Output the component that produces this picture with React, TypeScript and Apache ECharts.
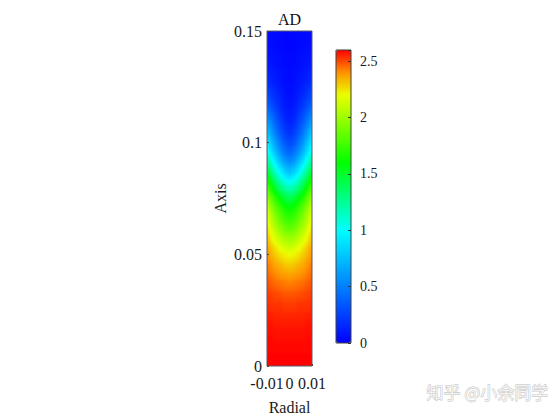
import React, { useEffect, useRef } from 'react';
import * as echarts from 'echarts';

// Radial positions of the stored half-columns (centre to wall); the field is symmetric about 0
const radialHalf = [0, 0.002, 0.004, 0.006, 0.008, 0.01];
// Axial positions of the rows: 0 to 0.15 every 0.0025 (61 rows)
const axialStep = 0.0025;
// AD values, rows from Axis = 0 upward, columns radial 0 .. 0.01
const adRows: number[][] = [
  [2.60, 2.60, 2.60, 2.60, 2.60, 2.60],
  [2.60, 2.60, 2.60, 2.60, 2.60, 2.60],
  [2.60, 2.60, 2.60, 2.60, 2.60, 2.60],
  [2.59, 2.59, 2.59, 2.59, 2.59, 2.59],
  [2.59, 2.59, 2.59, 2.59, 2.59, 2.59],
  [2.58, 2.58, 2.58, 2.58, 2.59, 2.59],
  [2.58, 2.58, 2.58, 2.58, 2.58, 2.58],
  [2.57, 2.57, 2.57, 2.57, 2.58, 2.58],
  [2.56, 2.56, 2.56, 2.56, 2.57, 2.57],
  [2.55, 2.55, 2.55, 2.55, 2.56, 2.56],
  [2.53, 2.53, 2.54, 2.54, 2.54, 2.55],
  [2.52, 2.52, 2.53, 2.53, 2.53, 2.54],
  [2.50, 2.50, 2.51, 2.51, 2.52, 2.53],
  [2.48, 2.48, 2.49, 2.50, 2.51, 2.52],
  [2.45, 2.45, 2.46, 2.47, 2.49, 2.50],
  [2.42, 2.43, 2.44, 2.45, 2.47, 2.49],
  [2.38, 2.39, 2.40, 2.42, 2.44, 2.47],
  [2.34, 2.35, 2.37, 2.39, 2.42, 2.45],
  [2.30, 2.31, 2.34, 2.36, 2.40, 2.44],
  [2.25, 2.26, 2.29, 2.33, 2.37, 2.42],
  [2.20, 2.22, 2.25, 2.29, 2.34, 2.40],
  [2.13, 2.15, 2.19, 2.25, 2.31, 2.38],
  [2.05, 2.07, 2.13, 2.19, 2.26, 2.35],
  [1.98, 2.01, 2.07, 2.14, 2.22, 2.32],
  [1.90, 1.93, 2.00, 2.08, 2.18, 2.29],
  [1.82, 1.86, 1.93, 2.02, 2.13, 2.26],
  [1.75, 1.79, 1.87, 1.97, 2.08, 2.22],
  [1.69, 1.73, 1.81, 1.92, 2.04, 2.18],
  [1.62, 1.66, 1.75, 1.85, 1.98, 2.13],
  [1.53, 1.57, 1.67, 1.78, 1.91, 2.07],
  [1.42, 1.47, 1.57, 1.69, 1.83, 2.00],
  [1.29, 1.34, 1.45, 1.58, 1.74, 1.92],
  [1.15, 1.20, 1.32, 1.46, 1.63, 1.82],
  [1.00, 1.06, 1.18, 1.33, 1.51, 1.72],
  [0.85, 0.91, 1.04, 1.20, 1.38, 1.60],
  [0.73, 0.79, 0.92, 1.08, 1.26, 1.48],
  [0.62, 0.68, 0.81, 0.96, 1.15, 1.36],
  [0.51, 0.57, 0.70, 0.85, 1.04, 1.25],
  [0.42, 0.48, 0.60, 0.75, 0.93, 1.14],
  [0.35, 0.41, 0.52, 0.67, 0.84, 1.04],
  [0.28, 0.33, 0.45, 0.59, 0.76, 0.95],
  [0.23, 0.28, 0.39, 0.52, 0.68, 0.87],
  [0.18, 0.23, 0.33, 0.46, 0.61, 0.79],
  [0.15, 0.19, 0.29, 0.40, 0.54, 0.70],
  [0.12, 0.16, 0.25, 0.35, 0.48, 0.62],
  [0.10, 0.13, 0.21, 0.30, 0.41, 0.53],
  [0.08, 0.11, 0.17, 0.25, 0.34, 0.45],
  [0.07, 0.09, 0.15, 0.21, 0.29, 0.38],
  [0.06, 0.08, 0.13, 0.18, 0.24, 0.32],
  [0.05, 0.07, 0.11, 0.15, 0.21, 0.27],
  [0.05, 0.06, 0.09, 0.13, 0.17, 0.22],
  [0.04, 0.05, 0.08, 0.10, 0.14, 0.18],
  [0.04, 0.05, 0.07, 0.09, 0.12, 0.15],
  [0.04, 0.05, 0.06, 0.08, 0.10, 0.12],
  [0.03, 0.04, 0.05, 0.06, 0.08, 0.10],
  [0.03, 0.03, 0.05, 0.06, 0.07, 0.09],
  [0.03, 0.03, 0.04, 0.05, 0.06, 0.07],
  [0.02, 0.02, 0.03, 0.04, 0.05, 0.06],
  [0.02, 0.02, 0.03, 0.03, 0.04, 0.05],
  [0.02, 0.02, 0.03, 0.03, 0.04, 0.05],
  [0.02, 0.02, 0.02, 0.03, 0.03, 0.04],
];

const radialTicks = [-0.01, 0, 0.01];
const axialTicks = [0, 0.05, 0.1, 0.15];
const colorbarTicks = [0, 0.5, 1, 1.5, 2, 2.5];
const colorMin = 0;
const colorMax = 2.6;
// rainbow colormap samples at 0, 0.2, ..., 2.6
const cmap = [
  '#0000ff', '#0033ff', '#0066ff', '#0099ff', '#00ccff', '#00ffff', '#00ffaa',
  '#00ff55', '#00ff00', '#4eff00', '#9dff00', '#ebff00', '#ff9200', '#ff0000',
];

const SERIF = '"Liberation Serif", "Times New Roman", serif';

export default function App() {
  const ref = useRef<HTMLDivElement>(null);
  useEffect(() => {
    if (!ref.current) return;
    const chart = echarts.init(ref.current, undefined, { renderer: 'svg' });

    const radialFull = radialHalf.slice(1).reverse().map((v) => -v).concat(radialHalf);
    const nCols = radialFull.length;
    const fullRows = adRows.map((row) => row.slice(1).reverse().concat(row));
    const nRows = fullRows.length;
    const data: number[][] = [];
    fullRows.forEach((full, i) => {
      full.forEach((v, j) => data.push([radialFull[j], i * axialStep, v]));
    });

    const xMin = radialTicks[0];
    const xMax = radialTicks[radialTicks.length - 1];
    const yMin = axialTicks[0];
    const yMax = axialTicks[axialTicks.length - 1];
    const dx = radialHalf[1] - radialHalf[0];
    const dy = axialStep;

    const xInt = radialTicks[1] - radialTicks[0];
    const yInt = axialTicks[1] - axialTicks[0];
    const cInt = colorbarTicks[1] - colorbarTicks[0];

    const colorOf = (v: number) =>
      echarts.color.lerp(Math.min(1, Math.max(0, (v - colorMin) / (colorMax - colorMin))), cmap);

    // shading between stored cells (like MATLAB "shading interp")
    const valAt = (ii: number, jf: number) => {
      const r = fullRows[Math.min(nRows - 1, Math.max(0, ii))];
      const jc = Math.min(nCols - 1, Math.max(0, jf));
      const j0 = Math.floor(jc);
      const j1 = Math.min(nCols - 1, j0 + 1);
      const t = jc - j0;
      return r[j0] * (1 - t) + r[j1] * t;
    };

    const option: any = {
      animation: false,
      textStyle: { fontFamily: SERIF },
      grid: [
        {
          left: 267, top: 31, width: 45, height: 341, show: true,
          borderColor: '#5a5a6a', borderWidth: 1, backgroundColor: 'transparent', z: 10,
        },
        {
          left: 336, top: 50, width: 15, height: 293, show: true,
          borderColor: '#404040', borderWidth: 1, backgroundColor: 'transparent', z: 10,
        },
      ],
      xAxis: [
        {
          type: 'value', gridIndex: 0, min: xMin, max: xMax, interval: xInt, z: 10,
          name: 'Radial', nameLocation: 'middle', nameGap: 33,
          nameTextStyle: { fontFamily: SERIF, fontSize: 16, color: '#1a1a1a' },
          axisLine: { show: false, onZero: false },
          axisTick: { show: true, inside: true, length: 2, lineStyle: { color: '#444' } },
          splitLine: { show: false },
          axisLabel: { fontFamily: SERIF, fontSize: 16, color: '#1a1a1a', margin: 9 },
        },
        {
          type: 'value', gridIndex: 0, position: 'top', min: xMin, max: xMax, interval: xInt,
          name: 'AD', nameLocation: 'middle', nameGap: 4,
          nameTextStyle: { fontFamily: SERIF, fontSize: 16, color: '#111' },
          axisLine: { show: false, onZero: false }, axisTick: { show: false }, axisLabel: { show: false },
          splitLine: { show: false },
        },
        { type: 'value', gridIndex: 1, min: 0, max: 1, show: false, axisLine: { onZero: false } },
      ],
      yAxis: [
        {
          type: 'value', gridIndex: 0, min: yMin, max: yMax, interval: yInt, z: 10,
          name: 'Axis', nameLocation: 'middle', nameGap: 39,
          nameTextStyle: { fontFamily: SERIF, fontSize: 16, color: '#1a1a1a' },
          axisLine: { show: false, onZero: false },
          axisTick: { show: true, inside: true, length: 2, lineStyle: { color: '#444' } },
          splitLine: { show: false },
          axisLabel: { fontFamily: SERIF, fontSize: 16, color: '#1a1a1a', margin: 5 },
        },
        {
          type: 'value', gridIndex: 1, position: 'right', min: colorMin, max: colorMax,
          interval: cInt, z: 10,
          axisLine: { show: false, onZero: false },
          axisTick: { show: true, inside: true, length: 3, lineStyle: { color: '#333' } },
          splitLine: { show: false },
          axisLabel: {
            fontFamily: SERIF, fontSize: 14, color: '#1a1a1a', margin: 9,
            formatter: (v: number) => (colorbarTicks.some((t) => Math.abs(t - v) < 1e-9) ? String(v) : ''),
          },
        },
      ],
      visualMap: {
        type: 'continuous', min: colorMin, max: colorMax, seriesIndex: 0, dimension: 2,
        calculable: false, show: true, orient: 'vertical', left: 336, top: 50,
        itemWidth: 15, itemHeight: 293, padding: 0, hoverLink: false,
        textStyle: { color: 'transparent' },
        inRange: { color: cmap },
      },
      series: [
        {
          type: 'custom', xAxisIndex: 0, yAxisIndex: 0, data,
          encode: { x: 0, y: 1 },
          silent: true,
          renderItem: (params: any, api: any) => {
            const idx = params.dataIndex;
            const i = Math.floor(idx / nCols);
            const j = idx % nCols;
            const x = api.value(0);
            const y = api.value(1);
            const x0 = Math.max(x - dx / 2, xMin);
            const x1 = Math.min(x + dx / 2, xMax);
            const y0 = Math.max(y - dy / 2, yMin);
            const y1 = Math.min(y + dy / 2, yMax);
            const pA = api.coord([x0, y1]);
            const pB = api.coord([x1, y0]);
            const pC = api.coord([x, y]);
            const colW = api.size([dx, 0])[0];
            const left = Math.floor(pA[0]);
            const right = Math.ceil(pB[0]);
            const top = Math.floor(pA[1]);
            const bottom = Math.ceil(pB[1]);
            const children: any[] = [];
            for (let px = left; px < right; px++) {
              const jf = j + (px + 0.5 - pC[0]) / colW;
              const vMid = valAt(i, jf);
              const vBelow = i > 0 ? (vMid + valAt(i - 1, jf)) / 2 : vMid;
              const vAbove = i < nRows - 1 ? (vMid + valAt(i + 1, jf)) / 2 : vMid;
              children.push({
                type: 'rect',
                shape: { x: px, y: top, width: 1, height: bottom - top },
                style: {
                  fill: {
                    type: 'linear', x: 0, y: 1, x2: 0, y2: 0, global: false,
                    colorStops: [
                      { offset: 0, color: colorOf(vBelow) },
                      { offset: 0.5, color: colorOf(vMid) },
                      { offset: 1, color: colorOf(vAbove) },
                    ],
                  },
                  stroke: null,
                },
              });
            }
            return { type: 'group', children };
          },
        },
      ],
      graphic: [
        {
          type: 'text', left: 426, top: 383, z: 20,
          style: {
            text: '知乎 @小余同学',
            font: '17px "Noto Sans CJK SC"',
            fill: '#f3f3f3',
            stroke: '#bdbdbd',
            lineWidth: 0.8,
          },
        },
      ],
    };
    chart.setOption(option);
    return () => chart.dispose();
  }, []);
  return (
    <div
      ref={ref}
      style={{ position: 'fixed', left: 0, top: 0, width: 560, height: 420, background: '#fff' }}
    />
  );
}
